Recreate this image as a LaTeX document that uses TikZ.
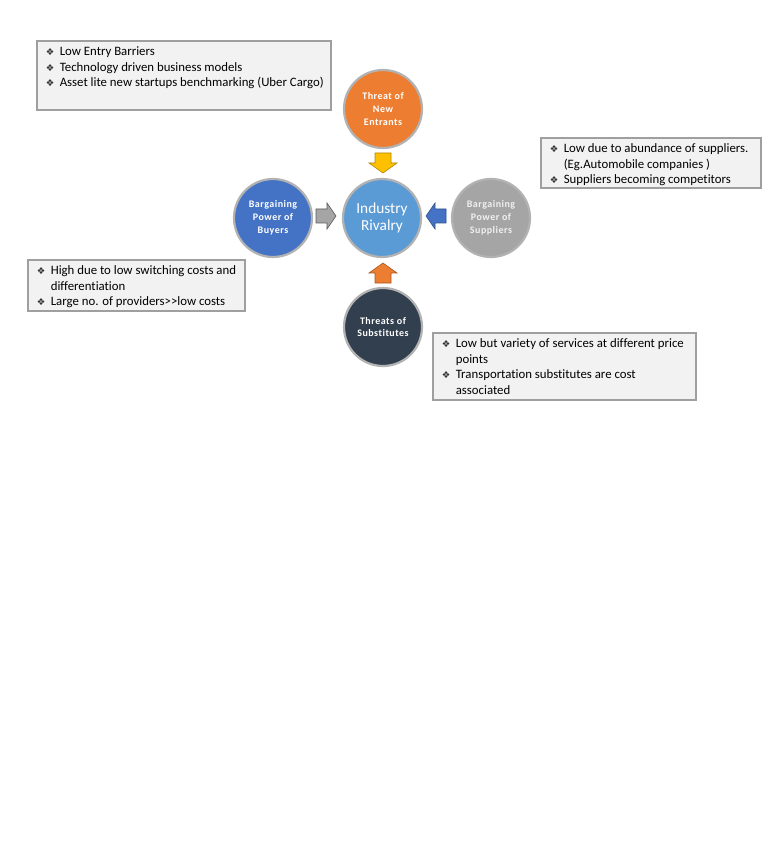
\documentclass[tikz,border=0pt]{standalone}
\usepackage{fontspec}
\setmainfont[Ligatures=NoCommon]{Carlito}
\newfontfamily\dejavu{DejaVu Sans}
\newfontfamily\circfont[LetterSpace=5,Ligatures=NoCommon]{Carlito}
\usetikzlibrary{shadows}
\definecolor{corange}{HTML}{ED7D31}
\definecolor{cyellow}{HTML}{FFC000}
\definecolor{clblue}{HTML}{5B9BD5}
\definecolor{cblue}{HTML}{4472C4}
\definecolor{cgray}{HTML}{A5A5A5}
\definecolor{cnavy}{HTML}{323F4F}
\definecolor{boxfill}{HTML}{F2F2F2}
\newcommand\bul{\makebox[14pt][l]{\dejavu\fontsize{9.5}{8}\selectfont\color{black!80}❖}}
\newcommand\bitem[1]{\par\hangindent=14pt\hangafter=1\noindent\bul#1}
\newcommand\boxtext[3]{\begin{minipage}[t][#1][t]{#2}\raggedright\fontsize{12.8}{15.5}\selectfont\vspace{6pt}\leftskip=9pt #3\end{minipage}}
\tikzset{
  infobox/.style={draw=gray!75, line width=1.6pt, fill=boxfill, inner sep=0pt, anchor=north west,
    drop shadow={shadow xshift=1pt, shadow yshift=-1pt, fill=gray!50}},
  ball/.style={circle, minimum size=78pt, inner sep=0pt, draw=gray!60, line width=2.2pt,
    text=white, align=center, font=\circfont\bfseries\fontsize{10}{12.8}\selectfont},
  barrow/.style={line width=0.6pt}
}
\begin{document}
\begin{tikzpicture}[x=1pt,y=-1pt]
\useasboundingbox (0,0) rectangle (768,866);
\fill[white] (0,0) rectangle (768,866);

% circles
\node[ball, fill=corange] (tne) at (383,109) {Threat of\\New\\Entrants};
\node[ball, fill=clblue, font=\fontsize{15.3}{17}\selectfont] (ir) at (382,218) {Industry\\Rivalry};
\node[ball, fill=cblue] (bpb) at (273,218) {Bargaining\\Power of\\Buyers};
\node[ball, fill=cgray, text=white!88!gray] (bps) at (491,218) {Bargaining\\Power of\\Suppliers};
\node[ball, fill=cnavy] (tos) at (383,327) {Threats of\\Substitutes};

% block arrows
\begin{scope}[shift={(383,163)}, rotate=-90]
  \filldraw[barrow, fill=cyellow, draw=cyellow!70!black] (-10,-8) -- (0,-8) -- (0,-14) -- (10,0) -- (0,14) -- (0,8) -- (-10,8) -- cycle;
\end{scope}
\begin{scope}[shift={(326,216)}]
  \filldraw[barrow, fill=cgray, draw=gray!70!black] (-10,-7) -- (1,-7) -- (1,-13) -- (10,0) -- (1,13) -- (1,7) -- (-10,7) -- cycle;
\end{scope}
\begin{scope}[shift={(436,216)}, rotate=180]
  \filldraw[barrow, fill=cblue, draw=cblue!70!black] (-10,-7) -- (1,-7) -- (1,-13) -- (10,0) -- (1,13) -- (1,7) -- (-10,7) -- cycle;
\end{scope}
\begin{scope}[shift={(383,273)}, rotate=90]
  \filldraw[barrow, fill=corange, draw=corange!70!black] (-10,-8) -- (0,-8) -- (0,-14) -- (10,0) -- (0,14) -- (0,8) -- (-10,8) -- cycle;
\end{scope}

% boxes
\node[infobox] (b1) at (36,40) {\boxtext{69pt}{294pt}{%
  \bitem{Low Entry Barriers}
  \bitem{Technology driven business models}
  \bitem{Asset lite new startups benchmarking (Uber Cargo)}}};
\node[infobox] (b2) at (540,137) {\boxtext{50pt}{220pt}{%
  \bitem{Low due to abundance of suppliers.\newline (Eg.Automobile companies )}
  \bitem{Suppliers becoming competitors}}};
\node[infobox] (b3) at (27,259) {\boxtext{51pt}{217pt}{%
  \bitem{High due to low switching costs and\newline differentiation}
  \bitem{Large no. of providers{>}{>}low costs}}};
\node[infobox] (b4) at (432,332) {\boxtext{67pt}{263pt}{%
  \bitem{Low but variety of services at different price\newline points}
  \bitem{Transportation substitutes are cost\newline associated}}};
\end{tikzpicture}
\end{document}
